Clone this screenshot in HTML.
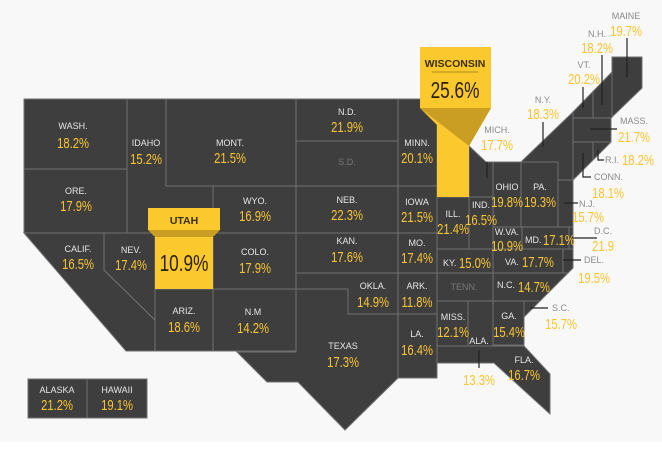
<!DOCTYPE html>
<html><head><meta charset="utf-8">
<style>
html,body{margin:0;padding:0;background:#fff;}
svg{display:block;}
text{font-family:"Liberation Sans",sans-serif;}
</style></head>
<body>
<svg id="map" width="662" height="474" viewBox="0 0 662 474" xmlns="http://www.w3.org/2000/svg">
<rect x="0" y="0" width="662" height="442" fill="#f8f8f8"/>
<g id="states" fill="#3e3e3e" stroke="#707070" stroke-width="1"></g>
<g id="lines" stroke="#222" stroke-width="1.2" fill="none"></g>
<g id="labels"></g>
</svg>
<script>
const stateCodes=["WA","OR","ID","MT","WY","CA","NV","UT","CO","AZ","NM","ND","SD","NE","KS","OK","TX","MN","IA","MO","AR","LA","WI","MI","IL","IN","OH","PA","NY","NJ","VT","NH","ME","MA","RI","CT","WV","MD","DC","KY","VA","DE","TN","NC","SC","MS","AL","GA","FL","AK","HI"];
const stateLabels=["WASH.","ORE.","IDAHO","MONT.","WYO.","CALIF.","NEV.","UTAH","COLO.","ARIZ.","N.M","N.D.","S.D.","NEB.","KAN.","OKLA.","TEXAS","MINN.","IOWA","MO.","ARK.","LA.","WISCONSIN","MICH.","ILL.","IND.","OHIO","PA.","N.Y.","N.J.","VT.","N.H.","MAINE","MASS.","R.I.","CONN.","W.VA.","MD.","D.C.","KY.","VA.","DEL.","TENN.","N.C.","S.C.","MISS.","ALA.","GA.","FLA.","ALASKA","HAWAII"];
const stateValues=["18.2%","17.9%","15.2%","21.5%","16.9%","16.5%","17.4%","10.9%","17.9%","18.6%","14.2%","21.9%","","22.3%","17.6%","14.9%","17.3%","20.1%","21.5%","17.4%","11.8%","16.4%","25.6%","17.7%","21.4%","16.5%","19.8%","19.3%","18.3%","15.7%","20.2%","18.2%","19.7%","21.7%","18.2%","18.1%","10.9%","17.1%","21.9","15.0%","17.7%","19.5%","","14.7%","15.7%","12.1%","13.3%","15.4%","16.7%","21.2%","19.1%"];

// layout: [labelX,labelY,valueX,valueY,labelAnchor,style,valueAnchor]
const M="middle",S="start";
const layout={
WA:[73,129,73,148,M,"i",M],OR:[76,194,76,211,M,"i",M],ID:[146,146,146,164,M,"i",M],
MT:[230,146,230,163,M,"i",M],WY:[255,204,255,221,M,"i",M],CA:[78,252,78,269,M,"i",M],
NV:[131,253,131,270,M,"i",M],UT:[184,224,184,271,M,"h",M],CO:[255,255,255,273,M,"i",M],
AZ:[184,314,184,332,M,"i",M],NM:[253,315,253,333,M,"i",M],ND:[347,115,347,132,M,"i",M],
SD:[347,165,347,165,M,"g",M],NE:[347,203,347,220,M,"i",M],KS:[347,244,347,262,M,"i",M],
OK:[373,289,373,307,M,"i",M],TX:[343,349,343,367,M,"i",M],MN:[417,146,417,163,M,"i",M],
IA:[417,205,417,222,M,"i",M],MO:[417,246,417,263,M,"i",M],AR:[417,289,417,307,M,"i",M],
LA:[417,337,417,355,M,"i",M],WI:[455,67,455,98,M,"w",M],MI:[497,133,497,150,M,"o",M],
IL:[453,217,453,234,M,"i",M],IN:[481,208,481,225,M,"i",M],OH:[507,190,507,207,M,"i",M],
PA:[540,190,540,207,M,"i",M],NY:[543,103,543,119,M,"o",M],NJ:[579,207,588,222,S,"o",M],
VT:[584,68,584,84,M,"o",M],NH:[597,37,597,53,M,"o",M],ME:[626,19,626,36,M,"o",M],
MA:[620,124,634,142,S,"o",M],RI:[605,163,622,165,S,"o",S],CT:[594,180,608,198,S,"o",M],
WV:[507,235,507,251,M,"i",M],MD:[525,243,543,245,S,"i",S],DC:[603,234,603,251,M,"o",M],
KY:[443,266,459,268,S,"i",S],VA:[505,265,522,267,S,"i",S],DE:[584,263,594,283,S,"o",M],
TN:[464,290,464,290,M,"g",M],NC:[497,288,518,292,S,"i",S],SC:[552,311,561,329,S,"o",M],
MS:[453,320,453,337,M,"i",M],AL:[479,344,479,385,M,"a",M],GA:[509,319,509,337,M,"i",M],
FL:[524,363,524,380,M,"i",M],AK:[57,393,57,410,M,"i",M],HI:[117,393,117,410,M,"i",M]};

const shapes={
WA:"24,99 127,99 127,169 24,169",OR:"24,169 127,169 127,233 24,233",
ID:"127,99 166,99 166,186 213,186 213,233 127,233",MT:"166,99 296,99 296,186 166,186",
WY:"213,186 296,186 296,233 213,233",CA:"24,233 104,233 104,270 155,320 155,351 126,351",
NV:"104,233 155,233 155,320 104,270",CO:"213,233 296,233 296,289 213,289",
AZ:"155,289 213,289 213,351 155,351",NM:"213,289 296,289 296,351 213,351",
ND:"296,99 398,99 398,141 296,141",SD:"296,141 398,141 398,186 296,186",
NE:"296,186 398,186 398,233 296,233",KS:"296,233 398,233 398,273 296,273",
OK:"296,273 398,273 398,314 348,314 348,289 296,289",
TX:"296,289 348,289 348,314 398,314 398,378 345,430 298,382 267,382 237,352 296,352",
MN:"398,99 437,99 437,186 398,186",IA:"398,186 437,186 437,233 398,233",
MO:"398,233 437,233 437,273 398,273",AR:"398,273 437,273 437,314 398,314",
LA:"398,314 437,314 437,378 398,378",MI:"469,146 486,162 493,162 493,197 469,197",
IL:"437,197 469,197 469,249 437,249",IN:"469,197 493,197 493,249 469,249",
OH:"493,162 521,162 521,227 493,227",PA:"521,162 558,162 558,227 521,227",
NY:"521,162 573,112 573,180 558,180 558,162",NJ:"558,180 573,180 573,227 558,227",
NE2:"573,112 612,72 612,57 642,57 642,88 611,118 611,142 573,180",
WV:"493,227 522,227 522,249 493,249",MD:"522,227 569,227 569,249 522,249",
DC:"569,227 573,227 573,249 569,249",KY:"437,249 493,249 493,273 437,273",
VA:"493,249 563,249 563,273 493,273",DE:"563,249 573,249 573,268 568,273 563,273",
TN:"437,273 493,273 493,301 437,301",NC:"493,273 568,273 540,301 493,301",
MS:"437,301 468,301 468,346 437,346",AL:"468,301 493,301 493,346 468,346",
GA:"493,301 524,301 524,345 493,345",SC:"524,301 540,301 524,317",
FL:"437,346 524,346 550,374 550,414 494,363 437,363",
AK:"28,379 87,379 87,418 28,418",HI:"87,379 147,379 147,418 87,418"};

const svgNS="http://www.w3.org/2000/svg";
const gS=document.getElementById("states"),gL=document.getElementById("lines"),gT=document.getElementById("labels");
for(const k in shapes){
  const p=document.createElementNS(svgNS,"polygon");
  p.setAttribute("points",shapes[k]);
  
  
  gS.appendChild(p);
}
const neLines=[[573,118,611,118],[573,142,611,142],[593,92,593,118],[612,72,612,118],[593,142,593,160]];
neLines.forEach(l=>{const e=document.createElementNS(svgNS,"line");e.setAttribute("x1",l[0]);e.setAttribute("y1",l[1]);e.setAttribute("x2",l[2]);e.setAttribute("y2",l[3]);e.setAttribute("stroke","#707070");


gS.appendChild(e);});
function poly(g,pts,fill,name){const p=document.createElementNS(svgNS,"polygon");p.setAttribute("points",pts);p.setAttribute("fill",fill);p.setAttribute("stroke","none");


g.appendChild(p);}
poly(gS,"155,233 213,233 213,289 155,289","#fbc82e","state-ut");
poly(gS,"148,230 220,230 213,237 155,237","#c99e22","utah-tab-shadow");
poly(gS,"148,208 220,208 220,230 148,230","#fbc82e","utah-tab");
poly(gS,"420,108 491,108 469,146 469,197 437,197 437,125","#fbc82e","state-wi");
poly(gS,"420,108 491,108 469,146","#c99e22","wisconsin-funnel-shadow");
poly(gS,"420,47 491,47 491,108 420,108","#fbc82e","wisconsin-callout");
const sep=document.createElementNS(svgNS,"line");sep.setAttribute("x1",432);sep.setAttribute("x2",478);sep.setAttribute("y1",72);sep.setAttribute("y2",72);sep.setAttribute("stroke","#b08a1c");


gS.appendChild(sep);
const leaders=["627,38 627,77","602,55 602,105","583,87 583,108","543,122 543,147","487,162 487,178","590,129 617,129","583,153 583,177 591,177","598,150 598,160 604,160","564,203 578,203","572,238 597,238","563,260 581,260","530,308 548,308","479,350 479,368"];
leaders.forEach(s=>{const e=document.createElementNS(svgNS,"polyline");e.setAttribute("points",s);


gL.appendChild(e);});

function txt(x,y,str,size,fill,anchor,sx,weight,name){
  const t=document.createElementNS(svgNS,"text");
  t.setAttribute("transform","translate("+x+","+y+") scale("+sx+",1)");
  t.setAttribute("font-size",size);t.setAttribute("fill",fill);t.setAttribute("text-anchor",anchor);
  if(weight)t.setAttribute("font-weight",weight);
  t.textContent=str;
  
  
  gT.appendChild(t);
}
stateCodes.forEach((c,i)=>{
  const L=layout[c];const st=L[5];
  let lc="#e6e6e6",vc="#f9c531",ls=9,vs=15;
  if(st==="o"){lc="#8a8a8a";}
  if(st==="g"){lc="#777";}
  if(st==="h"||st==="w"){lc="#3a3000";vc="#2a2200";vs=23;ls=10.5;}
  txt(L[0],L[1],stateLabels[i],ls,lc,L[4],1,st==="w"||st==="h"?"bold":null,"label-"+c.toLowerCase());
  if(stateValues[i]!=="")txt(L[2],L[3],stateValues[i],vs,vc,L[6],0.75,null,"value-"+c.toLowerCase());
});
</script>
</body></html>
